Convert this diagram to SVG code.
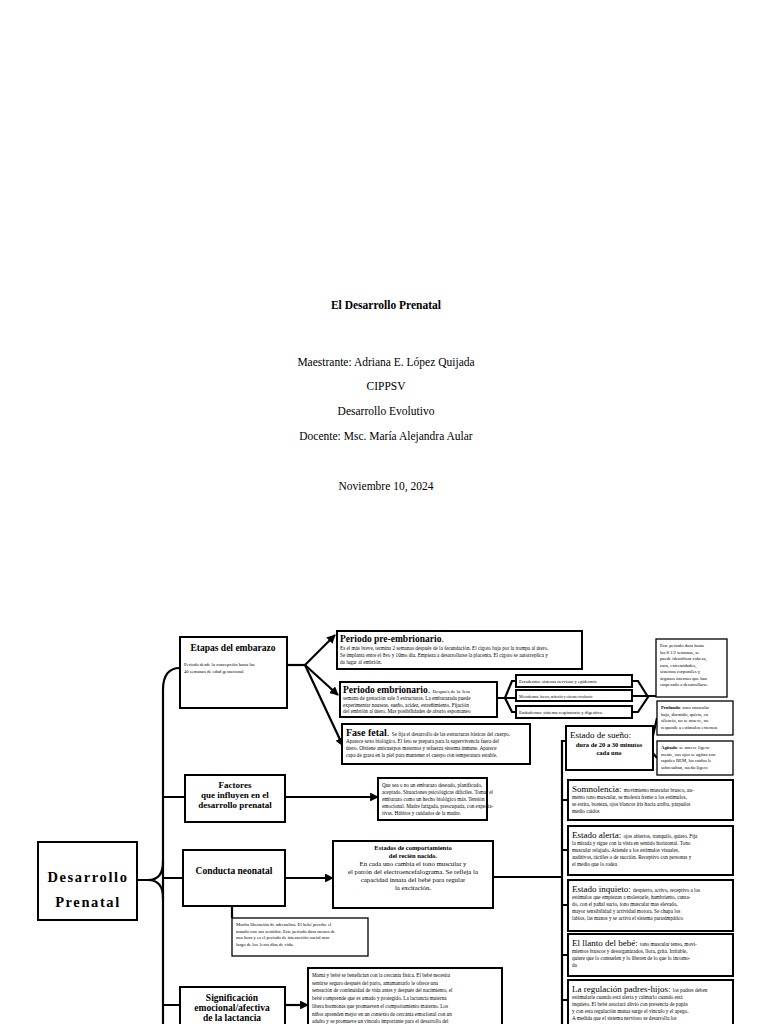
<svg xmlns="http://www.w3.org/2000/svg" width="768" height="1024" viewBox="0 0 768 1024">
<defs>
<style>
.t{font-family:"Liberation Serif","Times New Roman",serif;fill:#000}
.c{text-anchor:middle}
.b{font-weight:bold}
.box{fill:#fff;stroke:#000;stroke-width:2}
.thin{fill:#fff;stroke:#000;stroke-width:1.3}
.ln{fill:none;stroke:#000;stroke-width:2.2}
.s{font-size:4.7px}
.m{font-size:5.2px}
</style>
<marker id="ar" viewBox="0 0 10 10" refX="9" refY="5" markerWidth="4" markerHeight="4" orient="auto"><path d="M0,0 L10,5 L0,10 z" fill="#000"/></marker>
</defs>
<rect width="768" height="1024" fill="#fff"/>
<g id="cover" class="t" font-size="11.5">
<text x="386" y="309" class="c b">El Desarrollo Prenatal</text>
<text x="386" y="366" class="c">Maestrante: Adriana E. López Quijada</text>
<text x="386" y="390" class="c">CIPPSV</text>
<text x="386" y="415" class="c">Desarrollo Evolutivo</text>
<text x="386" y="440" class="c">Docente: Msc. María Alejandra Aular</text>
<text x="386" y="490" class="c">Noviembre 10, 2024</text>
</g>
<g id="connectors" class="ln">
<path d="M137,880 H148 M148,880 Q163,880 163,862 M148,880 Q163,880 163,898"/>
<path d="M163,1024 V690 Q163,668 180,668"/>
<path d="M163,797 H185 M163,878 H183 M163,1005 H180"/>
<path d="M287,665 H305"/>
<path d="M305,665 L335,635" marker-end="url(#ar)"/>
<path d="M305,665 L338,695" marker-end="url(#ar)"/>
<path d="M305,665 L343,746" marker-end="url(#ar)"/>
<path d="M497,698 H505 L512,681 H516 M505,698 H516 M505,698 L512,712 H516"/>
<path d="M632,681 H638 L648,697 L638,712 H632 M632,696 H656"/>
<path d="M657,718 L652,740 M652,752 L657,758"/>
<path d="M285,797 H378" marker-end="url(#ar)"/>
<path d="M285,878 H333" marker-end="url(#ar)"/>
<path d="M232,906 V918"/>
<path d="M285,1005 H308" marker-end="url(#ar)"/>
<path d="M493,877 H562"/>
<path d="M562,1024 V741 H566 M562,800 H568 M562,850 H568 M562,905 H568 M562,955 H568 M562,1000 H568"/>
</g>
<g id="main">
<rect x="38" y="842" width="99" height="78" class="box"/>
<text x="88" y="882" class="t c b" font-size="14.5" letter-spacing="1.6">Desarrollo</text>
<text x="88" y="907" class="t c b" font-size="14.5" letter-spacing="1.6">Prenatal</text>
</g>
<g id="etapas">
<rect x="180" y="637" width="107" height="71" class="box"/>
<text x="233" y="651" class="t c b" font-size="9.5">Etapas del embarazo</text>
<text x="184" y="666" class="t s">Periodo desde la concepción hasta las</text>
<text x="184" y="673" class="t s">40 semanas de edad gestacional</text>
</g>
<g id="preembrionario">
<rect x="337" y="631" width="245" height="38" class="box"/>
<text x="340" y="642" class="t b" font-size="9.5">Periodo pre-embrionario<tspan font-weight="normal">.</tspan></text>
<text x="340" y="650" class="t m">Es el más breve, termina 2 semanas después de la fecundación. El cigoto baja por la trompa al útero.</text>
<text x="340" y="657" class="t m">Se implanta entre el 8vo y 10mo día. Empieza a desarrollarse la placenta. El cigoto se autorreplica y</text>
<text x="340" y="664" class="t m">da lugar al embrión.</text>
</g>
<g id="embrionario">
<rect x="340" y="682" width="157" height="35" class="box"/>
<text x="343" y="693" class="t b" font-size="9.5">Periodo embrionario<tspan font-weight="normal">. </tspan><tspan font-weight="normal" font-size="5">Después de la 3era</tspan></text>
<text x="343" y="700" class="t m">semana de gestación sale 3 estructuras. La embarazada puede</text>
<text x="343" y="706.5" class="t m">experimentar nauseas, sueño, acidez, estreñimiento. Fijación</text>
<text x="343" y="713" class="t m">del embrión al útero. Mas posibilidades de aborto espontaneo</text>
</g>
<g id="ectodermo">
<rect x="516" y="675" width="116" height="12" class="box"/>
<text x="519" y="683" class="t s">Ectodermo: sistema nervioso y epidermis</text>
</g>
<g id="mesodermo">
<rect x="516" y="690" width="116" height="11" class="box"/>
<text x="519" y="697.5" class="t" font-size="4">Mesodermo: <tspan font-size="3.3">huesos, músculos y sistema circulatorio</tspan></text>
</g>
<g id="endodermo">
<rect x="516" y="706" width="116" height="12" class="box"/>
<text x="519" y="714" class="t s">Endodermo: sistema respiratorio y digestivo</text>
</g>
<g id="periodo-info">
<rect x="656" y="639" width="71" height="58" class="thin"/>
<g class="t s">
<text x="660" y="647">Este periodo dura hasta</text>
<text x="660" y="653.5">las 8 1/2 semanas, se</text>
<text x="660" y="660">puede identificar cabeza,</text>
<text x="660" y="666.5">cara, extremidades,</text>
<text x="660" y="673">sistemas corporales y</text>
<text x="660" y="679.5">órganos internos que han</text>
<text x="660" y="686">empezado a desarrollarse.</text>
</g>
</g>
<g id="fetal">
<rect x="342" y="724" width="188" height="40" class="box"/>
<text x="346" y="736" class="t b" font-size="10">Fase fetal<tspan font-weight="normal">. </tspan><tspan font-weight="normal" font-size="5.2">Se fija el desarrollo de las estructuras básicas del cuerpo.</tspan></text>
<text x="346" y="743" class="t m">Aparece sexo biológico. El feto se prepara para la supervivencia fuera del</text>
<text x="346" y="750" class="t m">útero. Obtiene anticuerpos maternos y refuerza sistema inmune. Aparece</text>
<text x="346" y="757" class="t m">capa de grasa en la piel para mantener el cuerpo con temperatura estable.</text>
</g>
<g id="sueno">
<rect x="566" y="726" width="87" height="44" class="box"/>
<text x="570" y="738" class="t" font-size="9">Estado de sueño:</text>
<text x="609" y="747" class="t c b" font-size="6.5">dura de 20 a 30 minutos</text>
<text x="609" y="755" class="t c b" font-size="6.5">cada uno</text>
</g>
<g id="profundo">
<rect x="657" y="701" width="76" height="34" class="thin"/>
<g class="t s">
<text x="661" y="709"><tspan font-weight="bold">Profundo</tspan>: tono muscular</text>
<text x="661" y="715.5">bajo, dormido, quieto, en</text>
<text x="661" y="722">silencio, no se mueve, no</text>
<text x="661" y="728.5">responde a estímulos externos</text>
</g>
</g>
<g id="agitado">
<rect x="657" y="741" width="76" height="34" class="thin"/>
<g class="t s">
<text x="661" y="749"><tspan font-weight="bold">Agitado</tspan>: se mueve ligera-</text>
<text x="661" y="755.5">mente, sus ojos se agitan con</text>
<text x="661" y="762">rapidez REM, los ruidos le</text>
<text x="661" y="768.5">sobresaltan, sueño ligero</text>
</g>
</g>
<g id="somnolencia">
<rect x="568" y="780" width="165" height="40" class="box"/>
<text x="572" y="792" class="t" font-size="9">Somnolencia: <tspan font-size="5.2">movimiento muscular brusco, au-</tspan></text>
<text x="572" y="799" class="t m">mento tono muscular, se molesta frente a los estímulos,</text>
<text x="572" y="806" class="t m">se estira, bosteza, ojos blancos iris hacia arriba, párpados</text>
<text x="572" y="813" class="t m">medio caídos</text>
</g>
<g id="alerta">
<rect x="568" y="826" width="165" height="49" class="box"/>
<text x="572" y="838" class="t" font-size="9">Estado alerta: <tspan font-size="5.2">ojos abiertos, tranquilo, quieto. Fija</tspan></text>
<text x="572" y="845" class="t m">la mirada y sigue con la vista en sentido horizontal. Tono</text>
<text x="572" y="852" class="t m">muscular relajado. Atiende a los estímulos visuales,</text>
<text x="572" y="859" class="t m">auditivos, táctiles o de succión. Receptivo con personas y</text>
<text x="572" y="866" class="t m">el medio que lo rodea</text>
</g>
<g id="inquieto">
<rect x="568" y="880" width="165" height="51" class="box"/>
<text x="572" y="892" class="t" font-size="9">Estado inquieto: <tspan font-size="5.2">despierto, activo, receptivo a los</tspan></text>
<text x="572" y="899" class="t m">estímulos que empiezan a molestarle, hambriento, cansa-</text>
<text x="572" y="906" class="t m">do, con el pañal sucio, tono muscular mas elevado,</text>
<text x="572" y="913" class="t m">mayor sensibilidad y actividad motora. Se chupa los</text>
<text x="572" y="920" class="t m">labios, las manos y se activa el sistema parasimpático</text>
</g>
<g id="llanto">
<rect x="568" y="934" width="165" height="42" class="box"/>
<text x="572" y="946" class="t" font-size="9">El llanto del bebé: <tspan font-size="5.2">tono muscular tenso, movi-</tspan></text>
<text x="572" y="953" class="t m">mientos bruscos y desorganizados, llora, grita. Irritable,</text>
<text x="572" y="960" class="t m">quiere que lo consuelen y lo liberen de lo que lo incomo-</text>
<text x="572" y="967" class="t m">da</text>
</g>
<g id="regulacion">
<rect x="568" y="980" width="165" height="60" class="box"/>
<text x="572" y="992" class="t" font-size="9">La regulación padres-hijos: <tspan font-size="5.2">los padres deben</tspan></text>
<text x="572" y="999" class="t m">estimularle cuando está alerta y calmarlo cuando está</text>
<text x="572" y="1006" class="t m">inquieto. El bebé asociará alivio con presencia de papás</text>
<text x="572" y="1013" class="t m">y con esta regulación mutua surge el vínculo y el apego.</text>
<text x="572" y="1020" class="t m">A medida que el sistema nervioso se desarrolla los</text>
</g>
<g id="factores">
<rect x="185" y="775" width="100" height="47" class="box"/>
<text x="235" y="788" class="t c b" font-size="9">Factores</text>
<text x="235" y="798" class="t c b" font-size="9">que influyen en el</text>
<text x="235" y="808" class="t c b" font-size="9">desarrollo prenatal</text>
</g>
<g id="factores-info">
<rect x="378" y="778" width="109" height="42" class="box"/>
<text x="382" y="787" class="t m">Que sea o no un embarazo deseado, planificado,</text>
<text x="382" y="794" class="t m">aceptado. Situaciones psicológicas difíciles. Tomar el</text>
<text x="382" y="801" class="t m">embarazo como un hecho biológico más. Tensión</text>
<text x="382" y="808" class="t m">emocional. Madre fatigada, preocupada, con expecta-</text>
<text x="382" y="815" class="t m">tivas. Hábitos y cuidados de la madre.</text>
</g>
<g id="conducta">
<rect x="183" y="850" width="102" height="56" class="box"/>
<text x="234" y="874" class="t c b" font-size="9.5">Conducta neonatal</text>
</g>
<g id="adrenalina">
<rect x="232" y="918" width="136" height="38" class="thin"/>
<text x="236" y="926" class="t s">Mucha liberación de adrenalina. El bebé percibe el</text>
<text x="236" y="932.5" class="t s">mundo con sus sentidos. Este periodo dura menos de</text>
<text x="236" y="939" class="t s">una hora y es el periodo de interacción social mas</text>
<text x="236" y="945.5" class="t s">largo de los 1eros días de vida.</text>
</g>
<g id="estados">
<rect x="333" y="841" width="160" height="67" class="box"/>
<text x="413" y="850" class="t c b" font-size="6.5">Estados de comportamiento</text>
<text x="413" y="858" class="t c b" font-size="6.5">del recién nacido.</text>
<text x="413" y="866" class="t c" font-size="6.8">En cada uno cambia el tono muscular y</text>
<text x="413" y="874" class="t c" font-size="6.8">el patrón del electroencefalograma. Se refleja la</text>
<text x="413" y="882" class="t c" font-size="6.8">capacidad innata del bebé para regular</text>
<text x="413" y="890" class="t c" font-size="6.8">la excitación.</text>
</g>
<g id="significacion">
<rect x="180" y="987" width="105" height="50" class="box"/>
<text x="232" y="1001" class="t c b" font-size="9.5">Significación</text>
<text x="232" y="1011" class="t c b" font-size="9.5">emocional/afectiva</text>
<text x="232" y="1021" class="t c b" font-size="9.5">de la lactancia</text>
</g>
<g id="lactancia">
<rect x="308" y="968" width="194" height="70" class="box"/>
<text x="312" y="977" class="t m">Mamá y bebé se benefician con la cercanía física. El bebé necesita</text>
<text x="312" y="984.7" class="t m">sentirse seguro después del parto, amamantarlo le ofrece una</text>
<text x="312" y="992.4" class="t m">sensación de continuidad de vida antes y después del nacimiento, el</text>
<text x="312" y="1000.1" class="t m">bebé comprende que es amado y protegido. La lactancia materna</text>
<text x="312" y="1007.8" class="t m">libera hormonas que promueven el comportamiento materno. Los</text>
<text x="312" y="1015.5" class="t m">niños aprenden mejor en un contexto de cercanía emocional con un</text>
<text x="312" y="1023.2" class="t m">adulto y se promueve un vínculo importante para el desarrollo del</text>
</g>
</svg>
